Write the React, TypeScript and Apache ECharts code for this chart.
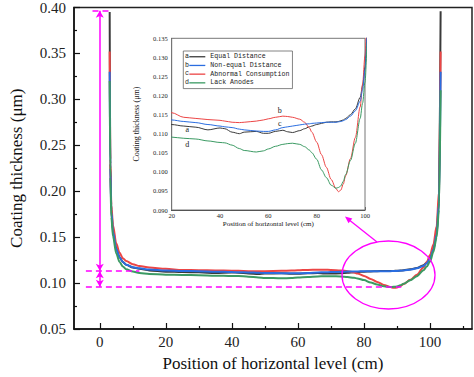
import React, { useEffect, useRef } from "react";
import * as echarts from "echarts";

const positions = [3, 3.2, 3.5, 4, 5, 6, 7, 8, 10, 12, 15, 20, 25, 30, 35, 40, 42, 45, 48, 50, 55, 58, 60, 63, 66, 68, 70, 73, 75, 77, 78, 80, 82, 84, 86, 88, 89, 90, 91, 92, 94, 96, 98, 99, 100, 101, 102, 102.7, 103.2];

const equalDistance = [0.395, 0.23, 0.18, 0.158, 0.138, 0.128, 0.123, 0.120, 0.117, 0.1155, 0.1138, 0.1124, 0.1120, 0.1117, 0.1110, 0.1115, 0.1113, 0.1104, 0.1100, 0.1104, 0.1106, 0.1101, 0.1101, 0.1106, 0.1109, 0.1105, 0.1103, 0.1108, 0.1113, 0.1118, 0.1120, 0.1124, 0.1127, 0.1130, 0.1131, 0.1131, 0.1132, 0.1134, 0.1136, 0.1140, 0.1150, 0.1165, 0.1195, 0.1225, 0.1275, 0.137, 0.155, 0.19, 0.396];
const nonEqualDistance = [0.330, 0.225, 0.178, 0.156, 0.137, 0.128, 0.123, 0.120, 0.1172, 0.116, 0.1148, 0.1136, 0.1132, 0.1129, 0.1124, 0.1120, 0.1118, 0.1116, 0.1112, 0.1110, 0.1107, 0.1106, 0.1106, 0.1110, 0.1116, 0.1118, 0.1120, 0.1123, 0.1125, 0.1126, 0.1127, 0.1128, 0.1129, 0.1130, 0.1130, 0.1130, 0.1131, 0.1132, 0.1134, 0.1137, 0.1146, 0.1160, 0.1185, 0.1215, 0.1268, 0.136, 0.153, 0.187, 0.330];
const abnormalConsumption = [0.352, 0.235, 0.185, 0.163, 0.143, 0.133, 0.127, 0.124, 0.1205, 0.1185, 0.117, 0.1155, 0.1143, 0.1140, 0.1137, 0.1135, 0.1133, 0.1130, 0.1129, 0.1130, 0.1133, 0.1136, 0.1139, 0.1143, 0.1146, 0.1145, 0.1143, 0.1138, 0.1130, 0.1115, 0.1104, 0.1078, 0.1045, 0.1012, 0.0980, 0.0956, 0.0948, 0.0952, 0.0968, 0.0990, 0.1035, 0.1090, 0.1170, 0.1230, 0.1305, 0.142, 0.162, 0.20, 0.352];
const lackAnodes = [0.320, 0.215, 0.172, 0.151, 0.132, 0.123, 0.118, 0.115, 0.1125, 0.111, 0.110, 0.1091, 0.1088, 0.1086, 0.1081, 0.1077, 0.1076, 0.1070, 0.1061, 0.1056, 0.1052, 0.1055, 0.1060, 0.1067, 0.1072, 0.1074, 0.1075, 0.1072, 0.1066, 0.1057, 0.1050, 0.1033, 0.1005, 0.0985, 0.0965, 0.0957, 0.0959, 0.0963, 0.0975, 0.0993, 0.1030, 0.1075, 0.1140, 0.1180, 0.1235, 0.134, 0.150, 0.18, 0.310];

const seriesNames = ["Equal Distance", "Non-equal Distance", "Abnormal Consumption", "Lack Anodes"];
const seriesLetters = ["a", "b", "c", "d"];
const mainXTicks = [0, 20, 40, 60, 80, 100];
const mainXMinorTicks = [10, 30, 50, 70, 90, 110];

const MAGENTA = "#f0f";
const SERIF = "Liberation Serif";
const MONO = "Liberation Mono";

export default function App() {
  const ref = useRef<HTMLDivElement>(null);
  useEffect(() => {
    if (!ref.current) return;
    const chart = echarts.init(ref.current, undefined, { renderer: "svg" });
    const colors = ["#3a3a3a", "#2a6de0", "#ec4545", "#3b9a63"];
    const dataSets = [equalDistance, nonEqualDistance, abnormalConsumption, lackAnodes];
    const drawOrder = [0, 2, 1, 3];
    const pts = (arr: number[]) => positions.map((x, i) => [x, arr[i]]);
    const series: any[] = [];
    drawOrder.forEach((k) => {
      series.push({
        type: "line", name: seriesNames[k], xAxisIndex: 0, yAxisIndex: 0,
        data: pts(dataSets[k]), symbol: "none", smooth: 0.3, smoothMonotone: "x",
        lineStyle: { color: colors[k], width: 2 }, itemStyle: { color: colors[k] }, clip: true,
      });
    });
    drawOrder.forEach((k) => {
      series.push({
        type: "line", name: seriesNames[k], xAxisIndex: 2, yAxisIndex: 1,
        data: pts(dataSets[k]), symbol: "none", smooth: 0.3, smoothMonotone: "x",
        lineStyle: { color: colors[k], width: 1 }, itemStyle: { color: colors[k] }, clip: true, z: 5,
      });
    });
    series.push({
      type: "line", xAxisIndex: 0, yAxisIndex: 0, data: [], silent: true,
      markLine: {
        silent: true, symbol: "none", label: { show: false },
        lineStyle: { color: MAGENTA, type: [6, 4], width: 1.5 },
        data: [
          [{ coord: [-2.2, 0.397] }, { coord: [3.2, 0.397] }],
          [{ coord: [-4.2, 0.1132] }, { coord: [12, 0.1132] }],
          [{ coord: [-4.2, 0.0957] }, { coord: [91.3, 0.0957] }],
        ],
      },
    });
    series.push({
      type: "line", xAxisIndex: 0, yAxisIndex: 0, data: [], silent: true,
      markLine: {
        silent: true, symbol: ["arrow", "arrow"], symbolSize: [6, 7], label: { show: false },
        lineStyle: { color: MAGENTA, type: "solid", width: 1.5 },
        data: [
          [{ coord: [0, 0.3965] }, { coord: [0, 0.1135] }],
          [{ coord: [0, 0.1128] }, { coord: [0, 0.0961] }],
        ],
      },
    });

    const graphics: any[] = [
      { type: "ellipse", shape: { cx: 388.5, cy: 275, rx: 46.5, ry: 34 }, style: { fill: "none", stroke: MAGENTA, lineWidth: 1.3 }, z: 20 },
      { type: "line", shape: { x1: 377, y1: 242, x2: 348, y2: 219 }, style: { stroke: MAGENTA, lineWidth: 1.3 }, z: 20 },
      { type: "polygon", shape: { points: [[345, 216.5], [352.3, 218.6], [348.5, 223.2]] }, style: { fill: MAGENTA }, z: 20 },
    ];
    const legendRows = [56.7, 65.2, 73.9, 82.6];
    seriesLetters.forEach((l, i) => {
      graphics.push({ type: "text", x: 185, y: legendRows[i], style: { text: l, fontFamily: MONO, fontSize: 6.6, fill: "#222", verticalAlign: "middle" }, z: 30 });
    });
    const inLabels: [string, number, number][] = [["b", 279.7, 110.7], ["c", 279.7, 123.3], ["a", 187.3, 129], ["d", 187.3, 144.3]];
    inLabels.forEach(([t, x, y]) => {
      graphics.push({ type: "text", x, y, style: { text: t, fontFamily: SERIF, fontSize: 8, fill: "#222", align: "center", verticalAlign: "middle" }, z: 30 });
    });

    chart.setOption({
      animation: false,
      textStyle: { fontFamily: SERIF },
      grid: [
        { left: 66, top: 4, width: 406, height: 328, show: true, borderColor: "#222", borderWidth: 1.5, backgroundColor: "transparent" },
        { left: 171.7, top: 38.3, width: 193.3, height: 171.7, show: true, borderColor: "#777", borderWidth: 1, backgroundColor: "#fff", z: 3 },
      ],
      legend: {
        data: seriesNames, left: 183.3, top: 51, orient: "vertical", padding: [2, 3, 2, 6],
        icon: "rect", itemWidth: 16, itemHeight: 1.3, itemGap: 1.2, borderColor: "#666", borderWidth: 0.8,
        selectedMode: false, textStyle: { fontFamily: MONO, fontSize: 6.6, color: "#222", lineHeight: 7.5 }, z: 25,
      },
      xAxis: [
        {
          gridIndex: 0, type: "value", min: -7.8, max: 112.7,
          name: "Position of horizontal level (cm)", nameLocation: "middle", nameGap: 26,
          nameTextStyle: { fontFamily: SERIF, fontSize: 17, color: "#111" },
          axisLine: { onZero: false, lineStyle: { color: "#111", width: 1.5 } },
          axisTick: { inside: true, length: 6, customValues: mainXTicks, lineStyle: { color: "#111", width: 1.2 } },
          axisLabel: { customValues: mainXTicks, margin: 5, fontFamily: SERIF, fontSize: 15, color: "#222" },
          splitLine: { show: false },
        },
        {
          gridIndex: 0, type: "value", min: -7.8, max: 112.7, position: "bottom",
          axisLine: { show: false, onZero: false },
          axisTick: { inside: true, length: 3, customValues: mainXMinorTicks, lineStyle: { color: "#111", width: 1.2 } },
          axisLabel: { show: false }, splitLine: { show: false },
        },
        {
          gridIndex: 1, type: "value", min: 20, max: 100, interval: 20,
          name: "Position of horizontal level (cm)", nameLocation: "middle", nameGap: 10,
          nameTextStyle: { fontFamily: SERIF, fontSize: 7, color: "#111" },
          axisLine: { onZero: false, lineStyle: { color: "#333", width: 1 } },
          axisTick: { inside: true, length: 3, lineStyle: { color: "#333", width: 0.8 } },
          minorTick: { show: true, splitNumber: 2, length: 2, lineStyle: { color: "#333", width: 0.8 } },
          axisLabel: { margin: 2, fontFamily: SERIF, fontSize: 6.5, color: "#222" },
          splitLine: { show: false },
        },
      ],
      yAxis: [
        {
          gridIndex: 0, type: "value", min: 0.05, max: 0.4, interval: 0.05,
          name: "Coating thickness (μm)", nameLocation: "middle", nameGap: 49,
          nameTextStyle: { fontFamily: SERIF, fontSize: 17, color: "#111" },
          axisLine: { show: true, onZero: false, lineStyle: { color: "#111", width: 1.5 } },
          axisTick: { show: true, inside: true, length: 6, lineStyle: { color: "#111", width: 1.2 } },
          minorTick: { show: true, splitNumber: 2, length: 3, lineStyle: { color: "#111", width: 1.2 } },
          axisLabel: { margin: 8, fontFamily: SERIF, fontSize: 15, color: "#222", formatter: (v: number) => v.toFixed(2) },
          splitLine: { show: false },
        },
        {
          gridIndex: 1, type: "value", min: 0.09, max: 0.135, interval: 0.005,
          name: "Coating thickness (μm)", nameLocation: "middle", nameGap: 31,
          nameTextStyle: { fontFamily: SERIF, fontSize: 8, color: "#111" },
          axisLine: { show: true, onZero: false, lineStyle: { color: "#333", width: 1 } },
          axisTick: { show: true, inside: true, length: 3, lineStyle: { color: "#333", width: 0.8 } },
          minorTick: { show: true, splitNumber: 2, length: 2, lineStyle: { color: "#333", width: 0.8 } },
          axisLabel: { margin: 4, fontFamily: SERIF, fontSize: 6.5, color: "#222", formatter: (v: number) => v.toFixed(3) },
          splitLine: { show: false },
        },
      ],
      series,
      graphic: graphics,
    });
    return () => chart.dispose();
  }, []);
  return <div ref={ref} style={{ position: "absolute", left: 0, top: 0, width: 474, height: 377 }} />;
}
